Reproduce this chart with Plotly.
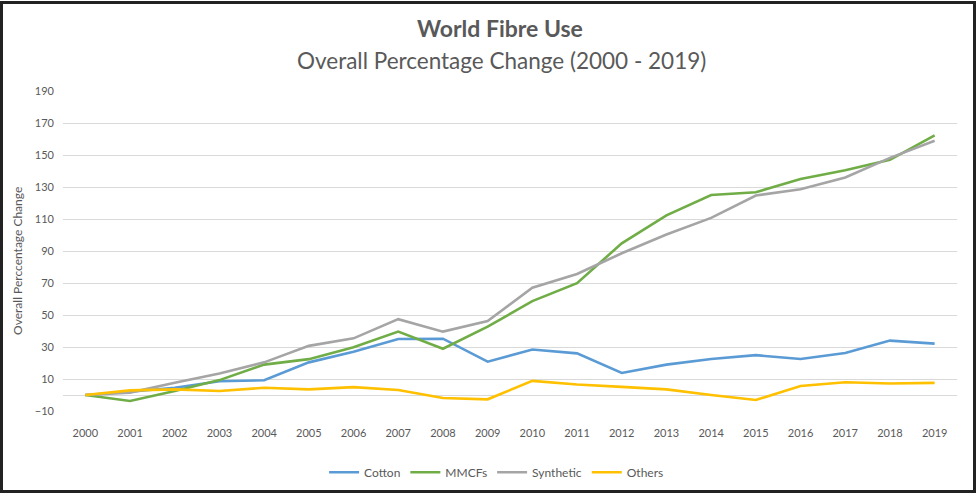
import plotly.graph_objects as go

years = [str(y) for y in range(2000, 2020)]
cotton = [0, 2, 4.5, 8.6, 9.2, 20.4, 27, 35, 35.2, 20.8, 28.4, 26, 13.8, 19, 22.5, 24.9, 22.5, 26.2, 34, 32.1]
mmcfs = [0, -3.7, 2.5, 9.3, 19, 22.4, 29.9, 39.6, 28.9, 42.7, 58.7, 69.9, 94.8, 112.3, 125, 126.7, 135, 140.5, 147, 162.2]
synthetic = [0, 1.5, 7.6, 13.4, 20.4, 30.7, 35.4, 47.4, 39.6, 46.2, 67, 75.6, 88.6, 100.3, 110.7, 124.7, 128.6, 136, 148.2, 158.9]
others = [0, 2.9, 3.5, 2.5, 4.5, 3.5, 4.9, 3.1, -1.9, -2.7, 8.8, 6.6, 5.1, 3.5, 0, -3.1, 5.6, 8, 7.2, 7.6]

series = [("Cotton", cotton, "#5B9BD5"), ("MMCFs", mmcfs, "#70AD47"),
          ("Synthetic", synthetic, "#A5A5A5"), ("Others", others, "#FFC000")]
yticks = list(range(-10, 191, 20))

W, H = 977, 499
L, R, T, B = 63, 20, 91, 84
pw, ph = W - L - R, H - T - B

def px_x(x):
    return (x - L) / pw

def px_y(y):
    return (H - B - y) / ph

FONT = "Lato"
fig = go.Figure()
for name, vals, col in series:
    fig.add_trace(go.Scatter(x=years, y=vals, name=name, mode="lines",
                             line=dict(color=col, width=2.6)))

fig.update_layout(
    width=W, height=H,
    margin=dict(l=L, r=R, t=T, b=B),
    paper_bgcolor="white", plot_bgcolor="white",
    font=dict(family=FONT, color="#595959", size=11),
    showlegend=True,
    legend=dict(orientation="h", x=0.485, xanchor="center", y=px_y(477), yanchor="middle",
                font=dict(size=12, color="#595959"), itemwidth=30, tracegroupgap=0),
    xaxis=dict(type="category", range=[-0.5, 19.5], showgrid=False, showline=False,
               ticks="", tickfont=dict(size=11, color="#595959"), ticklabelstandoff=14),
    yaxis=dict(range=[-10, 190], tickvals=yticks, showgrid=True, gridcolor="#D9D9D9",
               gridwidth=1, zeroline=True, zerolinecolor="#D9D9D9", zerolinewidth=1,
               ticks="", showline=False, tickfont=dict(size=11, color="#595959"),
               ticklabelstandoff=8),
    annotations=[
        dict(text="<b>World Fibre Use</b>", xref="paper", yref="paper",
             x=px_x(500), y=px_y(27), xanchor="center", yanchor="middle",
             showarrow=False, font=dict(family=FONT, size=23, color="#595959")),
        dict(text="Overall Percentage Change (2000 - 2019)", xref="paper", yref="paper",
             x=px_x(501), y=px_y(60), xanchor="center", yanchor="middle",
             showarrow=False, font=dict(family=FONT, size=22.5, color="#595959")),
        dict(text="Overall Perccentage Change", xref="paper", yref="paper",
             x=px_x(18), y=px_y(263), xanchor="center", yanchor="middle", textangle=-90,
             showarrow=False, font=dict(family=FONT, size=12, color="#595959")),
    ],
    shapes=[dict(type="rect", xref="paper", yref="paper",
                 x0=px_x(1.5), x1=px_x(974.5), y0=px_y(496.5), y1=px_y(1.5),
                 line=dict(color="#222222", width=3), fillcolor="rgba(0,0,0,0)")],
)

fig.write_html("out.html")
